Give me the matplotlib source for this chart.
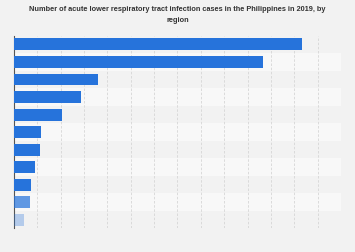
import numpy as np
import matplotlib
matplotlib.use("Agg")
import matplotlib.pyplot as plt

# --- Data (cases, thousands) ---
regions = ["R1", "R2", "R3", "R4", "R5", "R6", "R7", "R8", "R9", "R10", "R11"]
cases = [616, 534, 179, 143, 103, 57, 55, 45, 36, 34, 21]
bar_alpha = [1, 1, 1, 1, 1, 1, 1, 1, 1, 0.72, 0.3]

TITLE = "Number of acute lower respiratory tract infection cases in the Philippines in 2019, by\nregion"
BG = "#f2f2f2"
BAND = "#f8f8f8"
BLUE = "#2673db"

fig = plt.figure(figsize=(3.55, 2.53), dpi=100, facecolor=BG)
ax = fig.add_axes([0.0394, 0.093, 0.9212, 0.762], facecolor=BG)

n = len(regions)
y = np.arange(n)

# alternating row bands
for i in range(n):
    if i % 2 == 1:
        ax.axhspan(i - 0.5, i + 0.5, color=BAND, zorder=0, lw=0)

for yi, v, a in zip(y, cases, bar_alpha):
    ax.barh(yi, v, height=0.68, color=BLUE, alpha=a, zorder=3)

ax.set_xlim(0, 700)
ax.set_ylim(n - 0.5, -0.5)
ax.set_xticks(np.arange(0, 701, 50))
ax.set_yticks([])
ax.tick_params(axis="x", length=0, labelbottom=False)
ax.grid(axis="x", color="#d6d6d6", linestyle=(0, (3, 2)), linewidth=0.6, zorder=1)
ax.set_axisbelow(True)

for s in ["top", "right", "bottom"]:
    ax.spines[s].set_visible(False)
ax.spines["left"].set_color("#555555")
ax.spines["left"].set_linewidth(0.8)

fig.text(0.5, 0.975, TITLE, ha="center", va="top", fontsize=5.3,
         family="Liberation Sans", fontweight="bold", color="#333333",
         linespacing=1.75)

fig.savefig("out.png", dpi=100, facecolor=BG)
